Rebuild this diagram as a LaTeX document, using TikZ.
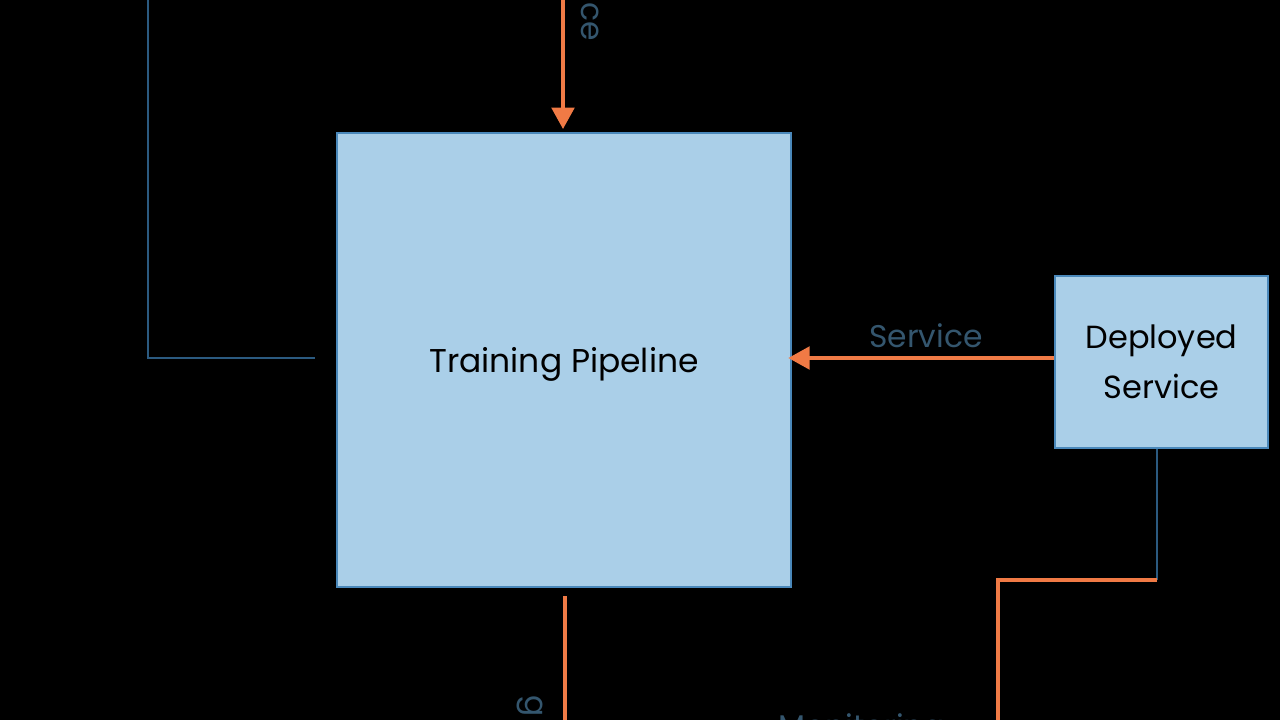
\documentclass[tikz,border=0pt]{standalone}
\usepackage{fontspec}
\setmainfont{Poppins}
\usetikzlibrary{arrows.meta}
\definecolor{boxfill}{HTML}{AACFE8}
\definecolor{boxline}{HTML}{4A88BA}
\definecolor{orangeline}{HTML}{F07A45}
\definecolor{darkline}{HTML}{2B5A80}
\definecolor{labeltext}{HTML}{34566E}
\tikzset{
  box/.style={draw=boxline, line width=2pt, fill=boxfill, inner sep=0pt, text=black, align=center},
  flow/.style={draw=orangeline, line width=2.4pt, -{Triangle[length=16pt,width=17pt]}},
  flowplain/.style={draw=orangeline, line width=2.4pt},
  thin/.style={draw=darkline, line width=1.4pt},
  lbl/.style={text=labeltext, font=\fontsize{23.5}{26}\selectfont, inner sep=0pt}
}
\begin{document}
\begin{tikzpicture}[x=0.75pt,y=-0.75pt]
\fill[black] (0,0) rectangle (1280,720);
\useasboundingbox (0,0) rectangle (1280,720);
\clip (0,0) rectangle (1280,720);
\node[box, minimum width=454*0.75pt, minimum height=454*0.75pt] (train) at (564,360) {};
\node[font=\fontsize{24.7}{28}\selectfont, inner sep=0pt] (trainlbl) at (564,364) {Training Pipeline};
\node[box, minimum width=213*0.75pt, minimum height=172*0.75pt, font=\fontsize{24}{37.5}\selectfont] (deploy) at (1161.5,362) {Deployed\\Service};
\coordinate (topin) at (563,-5);
\coordinate (leftend) at (148,-5);
\coordinate (leftcorner) at (148,358);
\coordinate (leftstop) at (315,358);
\coordinate (dcorner) at (1157,580);
\coordinate (ocorner) at (998,580);
\coordinate (obottom) at (998,725);
\coordinate (tbottom) at (565,725);
\draw[flow] (topin) -- ([yshift=2pt]train.north -| topin);
\draw[flow] (deploy.west |- 0,358) -- ([xshift=-3pt]train.east |- 0,358);
\draw[thin] (leftend) -- (leftcorner) -- (leftstop);
\draw[thin] (deploy.south -| dcorner) -- (dcorner);
\draw[flowplain] (dcorner) -- (ocorner) -- (obottom);
\draw[flowplain] ([yshift=-6pt]train.south -| tbottom) -- (tbottom);
\node[lbl] (lservice) at (926,336) {Service};
\node[lbl, rotate=-90, anchor=east] (lce) at (590,41) {ce};
\node[lbl, rotate=-90, anchor=west] (lg) at (530,695) {g};
\node[lbl, anchor=north west] (lmon) at (778,713) {Monitoring};
\end{tikzpicture}
\end{document}
